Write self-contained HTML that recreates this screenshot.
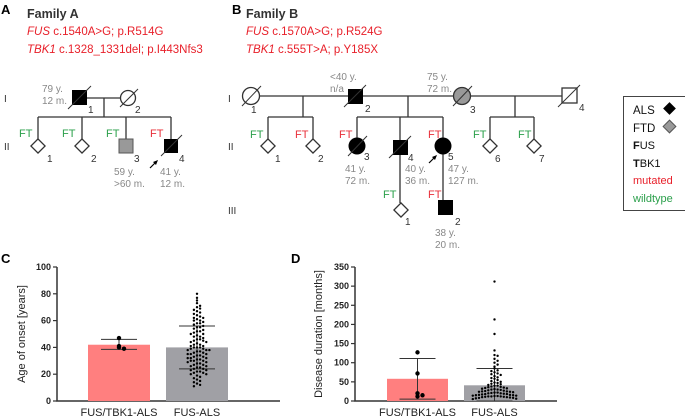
<!DOCTYPE html>
<html><head><meta charset="utf-8"><style>
html,body{margin:0;padding:0;background:#fff}
svg{display:block;font-family:"Liberation Sans",Arial,sans-serif}
.g{fill:#888;font-size:10px}
.n{fill:#333;font-size:10px}
.ftg{fill:#2ca04c;font-size:11px}
.ftr{fill:#e8303a;font-size:11px}
.red{fill:#e8202a;font-size:11.5px}
.ln{stroke:#333;stroke-width:1.3;fill:none}
.tk{font-size:9px;font-weight:bold;fill:#222}
</style></head><body>
<svg id="fig" width="685" height="419" viewBox="0 0 685 419">
<g>
<text x="1" y="14" font-size="13" font-weight="bold">A</text>
<text x="27" y="18" font-size="12.5" font-weight="bold" fill="#333">Family A</text>
<text x="27" y="35" class="red"><tspan font-style="italic">FUS</tspan> c.1540A&gt;G; p.R514G</text>
<text x="27" y="53" class="red"><tspan font-style="italic">TBK1</tspan> c.1328_1331del; p.I443Nfs3</text>
<text x="4" y="102" font-size="10" fill="#333">I</text>
<text x="4" y="150" font-size="10" fill="#333">II</text>
<text x="228" y="102" font-size="10" fill="#333">I</text>
<text x="228" y="150" font-size="10" fill="#333">II</text>
<text x="228" y="214" font-size="10" fill="#333">III</text>
<path class="ln" d="M87 98H121M104 98V117M38 117H171M38 117V139M82 117V139M126 117V139M171 117V139"/>
<rect x="72" y="90" width="15" height="15" fill="#000"/>
<line x1="68" y1="109" x2="91" y2="86" stroke="#333"/>
<circle cx="128" cy="98" r="7.5" fill="#fff" stroke="#333" stroke-width="1.3"/>
<line x1="120" y1="107" x2="138" y2="89" stroke="#333"/>
<text x="88" y="113" class="n">1</text><text x="135" y="113" class="n">2</text>
<text x="42" y="92" class="g">79 y.</text><text x="42" y="104" class="g">12 m.</text>
<text x="19" y="137" class="ftg">FT</text><text x="62" y="137" class="ftg">FT</text><text x="106" y="137" class="ftg">FT</text><text x="150" y="137" class="ftr">FT</text>
<rect x="33" y="141" width="10" height="10" transform="rotate(45 38 146)" fill="#fff" stroke="#333" stroke-width="1.3"/>
<rect x="77" y="141" width="10" height="10" transform="rotate(45 82 146)" fill="#fff" stroke="#333" stroke-width="1.3"/>
<rect x="119" y="139" width="14" height="14" fill="#999" stroke="#555"/>
<rect x="164" y="139" width="14" height="14" fill="#000"/>
<line x1="161" y1="156" x2="182" y2="135" stroke="#333"/>
<path d="M150 168L156 162" stroke="#000" stroke-width="1.2"/><path d="M158 160L153 162L156 165Z" fill="#000"/>
<text x="47" y="162" class="n">1</text><text x="91" y="162" class="n">2</text><text x="134" y="162" class="n">3</text><text x="179" y="162" class="n">4</text>
<text x="114" y="175" class="g">59 y.</text><text x="114" y="187" class="g">&gt;60 m.</text>
<text x="160" y="175" class="g">41 y.</text><text x="160" y="187" class="g">12 m.</text>
</g>
<g>
<text x="232" y="14" font-size="13" font-weight="bold">B</text>
<text x="246" y="18" font-size="12.5" font-weight="bold" fill="#333">Family B</text>
<text x="246" y="35" class="red"><tspan font-style="italic">FUS</tspan> c.1570A&gt;G; p.R524G</text>
<text x="246" y="53" class="red"><tspan font-style="italic">TBK1</tspan> c.555T&gt;A; p.Y185X</text>
<path class="ln" d="M259 96H348M362 96H454M470 96H562M303 96V117M268 117H313M268 117V139M313 117V139M408 96V117M357 117H443M357 117V138M400 117V140M443 117V138M515 96V117M490 117H534M490 117V139M534 117V139M400 153V203M443 154V200"/>
<circle cx="251" cy="96" r="8.5" fill="#fff" stroke="#333" stroke-width="1.3"/><line x1="242" y1="106" x2="261" y2="86" stroke="#333"/>
<rect x="348" y="89" width="15" height="15" fill="#000"/><line x1="344" y1="107" x2="366" y2="85" stroke="#333"/>
<circle cx="462" cy="96" r="8.5" fill="#999" stroke="#333" stroke-width="1.3"/><line x1="453" y1="106" x2="472" y2="86" stroke="#333"/>
<rect x="562" y="88" width="15" height="15" fill="#fff" stroke="#333" stroke-width="1.3"/><line x1="558" y1="107" x2="580" y2="85" stroke="#333"/>
<text x="251" y="113" class="n">1</text><text x="365" y="112" class="n">2</text><text x="470" y="113" class="n">3</text><text x="579" y="111" class="n">4</text>
<text x="330" y="80" class="g">&lt;40 y.</text><text x="330" y="92" class="g">n/a</text>
<text x="427" y="80" class="g">75 y.</text><text x="427" y="92" class="g">72 m.</text>
<text x="250" y="138" class="ftg">FT</text><text x="295" y="138" class="ftr">FT</text><text x="339" y="138" class="ftr">FT</text><text x="428" y="138" class="ftr">FT</text><text x="473" y="138" class="ftg">FT</text><text x="518" y="138" class="ftg">FT</text>
<rect x="263" y="141" width="10" height="10" transform="rotate(45 268 146)" fill="#fff" stroke="#333" stroke-width="1.3"/>
<rect x="308" y="141" width="10" height="10" transform="rotate(45 313 146)" fill="#fff" stroke="#333" stroke-width="1.3"/>
<circle cx="357" cy="146" r="8.5" fill="#000"/><line x1="348" y1="156" x2="367" y2="136" stroke="#333"/>
<rect x="393" y="140" width="15" height="15" fill="#000"/><line x1="389" y1="158" x2="411" y2="136" stroke="#333"/>
<circle cx="443" cy="146" r="8.5" fill="#000"/>
<path d="M429 163L435 157" stroke="#000" stroke-width="1.2"/><path d="M437 155L432 157L435 160Z" fill="#000"/>
<rect x="485" y="141" width="10" height="10" transform="rotate(45 490 146)" fill="#fff" stroke="#333" stroke-width="1.3"/>
<rect x="529" y="141" width="10" height="10" transform="rotate(45 534 146)" fill="#fff" stroke="#333" stroke-width="1.3"/>
<text x="275" y="162" class="n">1</text><text x="318" y="162" class="n">2</text><text x="364" y="160" class="n">3</text><text x="408" y="161" class="n">4</text><text x="448" y="160" class="n">5</text><text x="495" y="162" class="n">6</text><text x="539" y="162" class="n">7</text>
<text x="345" y="172" class="g">41 y.</text><text x="345" y="184" class="g">72 m.</text>
<text x="405" y="172" class="g">40 y.</text><text x="405" y="184" class="g">36 m.</text>
<text x="448" y="172" class="g">47 y.</text><text x="448" y="184" class="g">127 m.</text>
<text x="383" y="198" class="ftg">FT</text><text x="428" y="198" class="ftr">FT</text>
<rect x="396" y="205" width="10" height="10" transform="rotate(45 401 210)" fill="#fff" stroke="#333" stroke-width="1.3"/>
<rect x="438" y="200" width="15" height="15" fill="#000"/>
<text x="405" y="225" class="n">1</text><text x="455" y="225" class="n">2</text>
<text x="435" y="236" class="g">38 y.</text><text x="435" y="248" class="g">20 m.</text>
</g>
<g>
<rect x="623.5" y="96.5" width="62" height="114" fill="#fff" stroke="#444"/>
<text x="633" y="114" font-size="11.5" fill="#111">ALS</text>
<rect x="665" y="104" width="9" height="9" transform="rotate(45 669.5 108.5)" fill="#000"/>
<text x="633" y="132" font-size="11.5" fill="#111">FTD</text>
<rect x="665" y="122" width="9" height="9" transform="rotate(45 669.5 126.5)" fill="#999" stroke="#555"/>
<text x="633" y="149" font-size="11" fill="#111"><tspan font-weight="bold">F</tspan>US</text>
<text x="633" y="167" font-size="11" fill="#111"><tspan font-weight="bold">T</tspan>BK1</text>
<text x="633" y="184" font-size="11" fill="#e8202a">mutated</text>
<text x="633" y="202" font-size="11" fill="#2ca04c">wildtype</text>
</g>
<text x="1" y="263" font-size="13" font-weight="bold">C</text>
<text x="291" y="263" font-size="13" font-weight="bold">D</text>
<g id="chartC"></g>
<g id="chartD"></g>
</svg>
<script>
const categories = ["FUS/TBK1-ALS", "FUS-ALS"];
const onsetMeans = [42, 40];
const onsetSDLow = [38.5, 24];
const onsetSDHigh = [46, 56];
const onsetTicks = [0, 20, 40, 60, 80, 100];
const onsetRed = [47, 41, 40, 39];
const onsetGray = [80,77,75,73,71,70,69,68,67,66,65,64,63,62,62,61,60,60,59,58,58,57,56,55,55,54,53,52,52,51,50,50,49,48,48,47,46,46,45,45,44,44,43,42,42,41,41,40,40,40,39,39,38,38,38,37,37,36,36,35,35,35,34,34,33,33,32,32,32,31,31,30,30,30,29,29,28,28,27,27,26,26,25,25,24,24,23,23,22,22,21,21,20,20,19,18,17,16,15,14,13,12,11];
const durMeans = [58, 41];
const durSDLow = [5, 0];
const durSDHigh = [111, 85];
const durTicks = [0, 50, 100, 150, 200, 250, 300, 350];
const durRed = [127, 72, 20, 15, 12];
const durGray = [312,213,175,132,120,118,110,105,100,95,90,85,80,78,75,72,70,68,65,62,60,58,55,52,50,48,47,45,44,42,40,40,38,37,36,35,34,33,32,31,30,30,29,28,27,26,25,25,24,24,23,22,22,21,20,20,19,18,18,17,16,16,15,15,14,14,13,13,12,12,12,11,11,10,10,9,8,8,7,6,5];

const NS = "http://www.w3.org/2000/svg";
function mk(parent, tag, attrs, text) {
  const e = document.createElementNS(NS, tag);
  for (const k in attrs) e.setAttribute(k, attrs[k]);
  if (text !== undefined) e.textContent = text;
  parent.appendChild(e);
  return e;
}
function drawChart(g, cfg) {
  const y = v => cfg.y0 - (v / cfg.max) * (cfg.y0 - cfg.yTop);
  const ax = mk(g, "path", {d: `M${cfg.ax} ${cfg.yTop}V${cfg.y0}H${cfg.axEnd}`, stroke: "#333", "stroke-width": 1.5, fill: "none"});
  
  
  cfg.ticks.forEach(t => {
    mk(g, "line", {x1: cfg.ax - 4, x2: cfg.ax, y1: y(t), y2: y(t), stroke: "#333", "stroke-width": 1.2});
    const tl = mk(g, "text", {x: cfg.ax - 6, y: y(t) + 3, "text-anchor": "end", class: "tk"}, t);
    
    
  });
  const tt = mk(g, "text", {x: 0, y: 0, transform: `translate(${cfg.titleX} ${(cfg.yTop + cfg.y0) / 2}) rotate(-90)`, "text-anchor": "middle", "font-size": 11, fill: "#222"}, cfg.title);
  
  
  const colors = ["#ff7f7f", "#a0a0a5"];
  categories.forEach((c, i) => {
    const x0 = cfg.barX[i], w = cfg.barW, cx = x0 + w / 2;
    const b = mk(g, "rect", {x: x0, y: y(cfg.means[i]), width: w, height: cfg.y0 - y(cfg.means[i]), fill: colors[i]});
    
    
    const lo = y(cfg.lo[i]), hi = y(cfg.hi[i]);
    const eb = mk(g, "path", {d: `M${cx} ${lo}V${hi}M${cx - 18} ${hi}H${cx + 18}M${cx - 18} ${lo}H${cx + 18}`, stroke: "#333", "stroke-width": 1, fill: "none"});
    
    
    const xl = mk(g, "text", {x: cx, y: 416, "text-anchor": "middle", "font-size": 11, fill: "#222"}, c);
    
    
    const vals = i === 0 ? cfg.red : cfg.gray;
    const r = i === 0 ? 2.2 : 1.2, sp = i === 0 ? 5 : 3.1;
    const bins = {};
    vals.forEach(v => {
      const k = Math.round(v / cfg.step);
      const n = bins[k] = (bins[k] || 0) + 1;
      const idx = n - 1;
      const off = idx === 0 ? 0 : (idx % 2 ? 1 : -1) * Math.ceil(idx / 2) * sp;
      const d = mk(g, "circle", {cx: cx + off, cy: y(v), r: r, fill: "#000"});
      
      
    });
  });
}
drawChart(document.getElementById("chartC"), {ax: 57, axEnd: 280, yTop: 267, y0: 401, max: 100, ticks: onsetTicks, title: "Age of onset [years]", titleX: 25, barX: [88, 166], barW: 62, means: onsetMeans, lo: onsetSDLow, hi: onsetSDHigh, red: onsetRed, gray: onsetGray, step: 3});
drawChart(document.getElementById("chartD"), {ax: 355, axEnd: 557, yTop: 267, y0: 401, max: 350, ticks: durTicks, title: "Disease duration [months]", titleX: 322, barX: [387, 464], barW: 61, means: durMeans, lo: durSDLow, hi: durSDHigh, red: durRed, gray: durGray, step: 9});
</script>
</body></html>
